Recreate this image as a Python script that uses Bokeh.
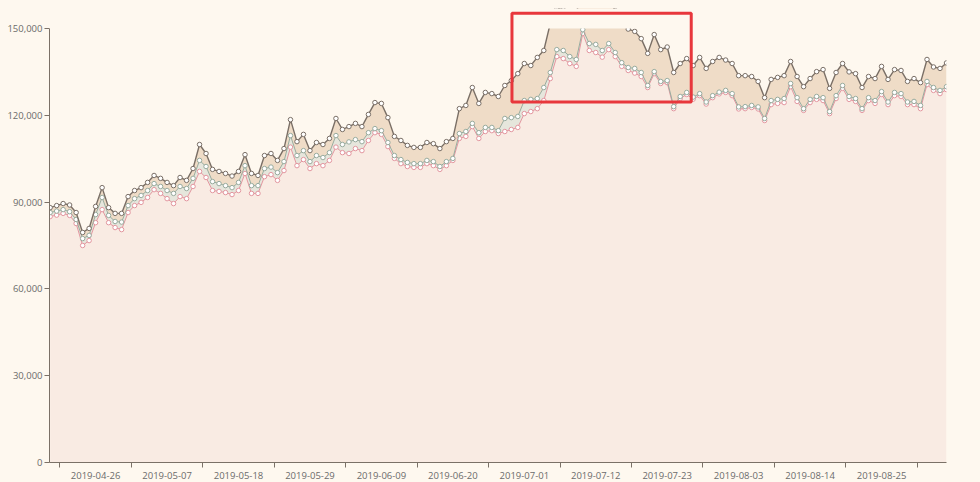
import numpy as np
import pandas as pd
from bokeh.plotting import figure
from bokeh.models import (ColumnDataSource, Range1d, FixedTicker, NumeralTickFormatter,
                          BoxAnnotation, GlobalInlineStyleSheet)
from bokeh.transform import stack
from bokeh.embed import file_html
from bokeh.resources import INLINE

# ---------------- data (values in thousands) ----------------
dates = pd.date_range("2019-04-19", periods=139).strftime("%Y-%m-%d").tolist()

series_a = [
    85.0, 85.5, 86.1, 85.4, 82.6, 75.0, 76.7, 82.9, 87.4, 82.9,
    81.2, 80.5, 86.4, 88.8, 89.9, 91.6, 94.3, 93.0, 91.2, 89.5,
    91.9, 91.2, 95.4, 100.6, 98.5, 94.0, 93.7, 93.3, 92.6, 94.0,
    99.9, 93.0, 93.0, 98.8, 99.5, 97.5, 100.9, 109.0, 102.6, 104.7,
    101.6, 103.3, 102.6, 104.4, 109.0, 107.1, 106.8, 108.5, 107.8, 111.3,
    114.0, 113.4, 109.2, 105.1, 103.3, 102.3, 102.0, 102.0, 103.3, 102.6,
    101.3, 102.6, 104.4, 112.0, 112.7, 116.1, 112.0, 114.4, 114.7, 113.7,
    114.4, 115.1, 115.8, 120.6, 121.3, 122.3, 125.1, 132.7, 140.3, 139.6,
    137.9, 136.9, 148.3, 142.4, 141.7, 140.1, 142.7, 140.3, 136.9, 135.5,
    134.6, 133.4, 129.6, 134.4, 131.0, 131.3, 122.3, 125.8, 127.2, 125.6,
    126.8, 123.9, 126.1, 127.4, 127.9, 126.8, 122.2, 122.3, 122.7, 122.2,
    118.2, 123.7, 124.1, 124.4, 129.9, 124.8, 121.7, 124.4, 125.5, 125.1,
    120.6, 125.8, 129.3, 125.5, 124.8, 121.7, 125.1, 124.1, 127.2, 123.7,
    126.8, 126.5, 123.7, 123.7, 122.3, 130.6, 128.6, 127.5, 128.9,
]
series_b = [
    1.4, 1.4, 1.3, 1.3, 1.4, 2.4, 1.8, 2.8, 4.2, 2.5,
    2.1, 2.6, 2.4, 2.4, 2.4, 2.4, 2.1, 2.4, 2.8, 3.5,
    3.5, 3.5, 2.8, 3.8, 3.8, 3.1, 2.7, 2.4, 2.4, 2.8,
    2.7, 2.7, 2.7, 2.8, 2.6, 2.7, 3.1, 4.0, 3.5, 3.1,
    2.4, 2.8, 2.8, 2.7, 4.0, 2.8, 4.0, 3.1, 3.1, 2.7,
    1.4, 1.3, 1.4, 1.0, 1.4, 1.4, 1.3, 1.3, 1.1, 1.4,
    1.0, 1.4, 0.7, 1.7, 1.7, 1.1, 2.0, 1.4, 1.1, 1.0,
    4.5, 4.1, 3.8, 4.5, 4.2, 3.5, 4.5, 2.1, 2.4, 2.8,
    2.4, 2.4, 1.3, 2.4, 2.8, 2.3, 2.1, 1.4, 1.3, 1.0,
    1.6, 1.4, 0.7, 0.7, 0.7, 0.7, 0.7, 0.7, 0.7, 0.7,
    0.7, 0.7, 0.7, 0.6, 0.7, 0.7, 0.7, 0.7, 0.7, 0.7,
    0.7, 1.4, 1.4, 1.4, 1.1, 1.3, 0.6, 1.1, 1.0, 1.0,
    0.7, 1.0, 1.0, 1.0, 1.0, 0.6, 1.0, 1.0, 1.0, 0.9,
    1.1, 1.0, 0.9, 1.1, 1.1, 1.1, 1.0, 1.1, 1.0,
]
series_c = [
    1.7, 1.9, 2.1, 2.3, 2.4, 2.1, 2.4, 2.8, 3.4, 2.7,
    2.8, 3.0, 3.1, 2.8, 2.7, 2.8, 2.8, 2.8, 2.8, 2.7,
    3.1, 2.8, 3.4, 5.5, 4.5, 4.2, 4.2, 4.2, 4.0, 3.8,
    3.8, 4.2, 3.5, 4.5, 4.7, 4.2, 4.5, 5.5, 4.8, 5.6,
    3.8, 4.5, 4.5, 4.9, 5.9, 5.2, 5.3, 5.6, 5.2, 6.3,
    9.0, 9.4, 8.6, 6.6, 6.6, 5.9, 5.6, 5.6, 6.2, 6.2,
    6.2, 6.9, 6.9, 8.6, 9.0, 12.4, 10.1, 12.1, 11.7, 11.8,
    11.4, 12.8, 14.8, 12.8, 11.7, 14.2, 12.8, 17.0, 14.5, 14.0,
    15.0, 16.0, 14.5, 15.0, 15.5, 16.0, 15.0, 14.5, 13.5, 13.3,
    12.8, 11.7, 11.1, 12.8, 11.0, 11.6, 11.8, 11.4, 11.7, 10.9,
    12.5, 11.6, 11.8, 12.0, 10.5, 10.4, 10.8, 10.7, 10.0, 8.8,
    7.2, 7.3, 7.6, 7.9, 7.6, 7.3, 7.6, 7.2, 8.6, 9.7,
    8.0, 8.0, 7.6, 8.5, 8.6, 7.3, 7.3, 7.6, 8.7, 7.8,
    7.9, 8.0, 7.1, 7.9, 7.9, 7.6, 7.1, 7.6, 8.2,
]
y_ticks = [0, 30000, 60000, 90000, 120000, 150000]
label_start, label_step = 7, 11

# ---------------- styling / layout ----------------
BG = "#fef8ef"
AXIS = "#7b7167"
TXT = "#6b6b6b"
PINK_FILL, TEAL_FILL, TAN_FILL = "#f9ebe3", "#e6e6dc", "#efdcc7"
PINK_LINE, TEAL_LINE, TOP_LINE = "#e3969f", "#98ab9e", "#7a6f66"

W, H = 980, 482
LEFT, RIGHT, TOP, BOTTOM = 49, 34, 8, 20          # frame margins (px)
AXIS_TOP_PX = 28                                   # where the axis maximum sits
frame_h = H - TOP - BOTTOM
y_max = y_ticks[-1]
y_end = y_max * frame_h / (H - BOTTOM - AXIS_TOP_PX)

n = len(dates)
xs = list(range(n))
src = ColumnDataSource(dict(
    x=xs,
    a=np.array(series_a) * 1000,
    b=np.array(series_b) * 1000,
    c=np.array(series_c) * 1000,
))

p = figure(width=W, height=H, output_backend="svg", toolbar_location=None,
           x_range=Range1d(-0.1, n - 1), y_range=Range1d(0, y_end),
           background_fill_color=BG, border_fill_color=BG,
           min_border_left=LEFT, min_border_right=RIGHT,
           min_border_top=TOP, min_border_bottom=BOTTOM)
p.outline_line_color = None
p.grid.visible = False
p.stylesheets = [GlobalInlineStyleSheet(css=f"html, body {{ background-color: {BG}; overflow: hidden; }}")]

p.varea_stack(["a", "b", "c"], x="x", color=[PINK_FILL, TEAL_FILL, TAN_FILL], source=src)

for fields, col, lw in ((("a",), PINK_LINE, 1.0),
                        (("a", "b"), TEAL_LINE, 1.0),
                        (("a", "b", "c"), TOP_LINE, 1.4)):
    p.line(x="x", y=stack(*fields), source=src, line_color=col, line_width=lw)
    p.scatter(x="x", y=stack(*fields), source=src, size=4.5, marker="circle",
              fill_color="white", line_color=col, line_width=1)

# values above the axis maximum are clipped (masked with the background)
p.add_layout(BoxAnnotation(bottom=y_max, fill_color=BG, fill_alpha=1.0,
                           line_color=None, line_alpha=0))

# x axis: labels every 11 days, ticks between labels
label_pos = list(range(label_start, n - 5, label_step))
tick_pos = [lp - label_step / 2 for lp in label_pos] + [label_pos[-1] + label_step / 2]
p.xaxis.ticker = FixedTicker(ticks=label_pos, minor_ticks=tick_pos)
p.xaxis.major_label_overrides = {lp: dates[lp] for lp in label_pos}
p.xaxis.major_tick_out = 0
p.xaxis.major_tick_in = 0
p.xaxis.minor_tick_out = 5
p.xaxis.minor_tick_in = 0
p.xaxis.minor_tick_line_color = AXIS
p.xaxis.major_label_standoff = 4

p.yaxis.ticker = FixedTicker(ticks=y_ticks)
p.yaxis.formatter = NumeralTickFormatter(format="0,0")
p.yaxis.bounds = (0, y_max)
p.yaxis.major_tick_out = 5
p.yaxis.major_tick_in = 0
p.yaxis.minor_tick_line_color = None
p.yaxis.major_label_standoff = 2

for ax in (p.xaxis, p.yaxis):
    ax.axis_line_color = AXIS
    ax.major_tick_line_color = AXIS
    ax.major_label_text_font = "Open Sans"
    ax.major_label_text_font_size = "9.5px"
    ax.major_label_text_color = TXT

# red highlight rectangle
p.add_layout(BoxAnnotation(left=71.1, right=98.7, bottom=124600, top=155300,
                           fill_color=None, fill_alpha=0,
                           line_color="#e8373c", line_alpha=1.0, line_width=3))

open("out.html", "w").write(file_html(p, INLINE))
